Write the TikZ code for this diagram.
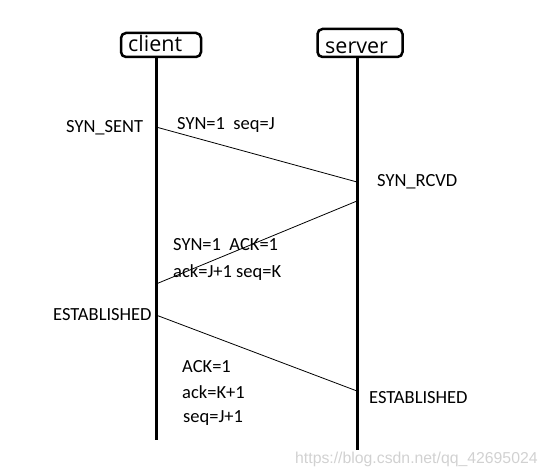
\documentclass[tikz,border=0pt]{standalone}
\usepackage{fontspec}
\setmainfont{Carlito}
\newfontfamily\wmfont{Liberation Sans}
\newfontfamily\titlefont{Open Sans}
\usetikzlibrary{positioning}
\tikzstyle{actor} = [rectangle, rounded corners=5pt, draw=black, line width=2.5pt, inner sep=0pt, font=\titlefont\fontsize{21.5}{24}\selectfont]
\tikzstyle{life} = [line width=3pt]
\tikzstyle{msg} = [line width=0.8pt]
\tikzstyle{lbl} = [inner sep=0pt, anchor=base west, font=\fontsize{18.5}{20}\selectfont]

\begin{document}
\begin{tikzpicture}[x=1pt, y=-1pt]
  \useasboundingbox (0,0) rectangle (547,476);
  \node (client) [actor, minimum width=80pt, minimum height=24pt] at (161,45) {};
  \node (server) [actor, minimum width=85pt, minimum height=28pt] at (360,43) {};
  \node (clientlbl) [inner sep=0pt, anchor=base west, font=\titlefont\fontsize{21.5}{24}\selectfont] at (128,52) {client};
  \node (serverlbl) [inner sep=0pt, anchor=base west, font=\titlefont\fontsize{21.5}{24}\selectfont] at (325,54) {server};

  \coordinate (ctop) at (156,58);
  \coordinate (cbot) at (156,440);
  \coordinate (stop) at (357,58);
  \coordinate (sbot) at (357,450);
  \draw [life] (ctop) -- (cbot);
  \draw [life] (stop) -- (sbot);

  % message end points
  \coordinate (c1) at (156,127);
  \coordinate (s1) at (357,182);
  \coordinate (s2) at (357,201);
  \coordinate (c2) at (156,284);
  \coordinate (c3) at (156,315);
  \coordinate (s3) at (357,391);
  \draw [msg] (c1) -- (s1);
  \draw [msg] (s2) -- (c2);
  \draw [msg] (c3) -- (s3);

  \node (synsent) [lbl] at (66,133) {SYN\_SENT};
  \node (syn) [lbl] at (177,130) {SYN=1\ \ seq=J};
  \node (synrcvd) [lbl] at (377,187) {SYN\_RCVD};
  \node (synack) [lbl] at (173,251) {SYN=1\ \ ACK=1};
  \node (ackj) [lbl] at (173,277) {ack=J+1 seq=K};
  \node (estc) [lbl] at (53,320) {ESTABLISHED};
  \node (ack) [lbl] at (182,372) {ACK=1};
  \node (ackk) [lbl] at (182,398) {ack=K+1};
  \node (seqj) [lbl] at (183,422) {seq=J+1};
  \node (ests) [lbl] at (369,403) {ESTABLISHED};

  \node (wm) [lbl, text=black!18, font=\wmfont\fontsize{15.8}{18}\selectfont] at (295,463) {https://blog.csdn.net/qq\_42695024};
\end{tikzpicture}
\end{document}
